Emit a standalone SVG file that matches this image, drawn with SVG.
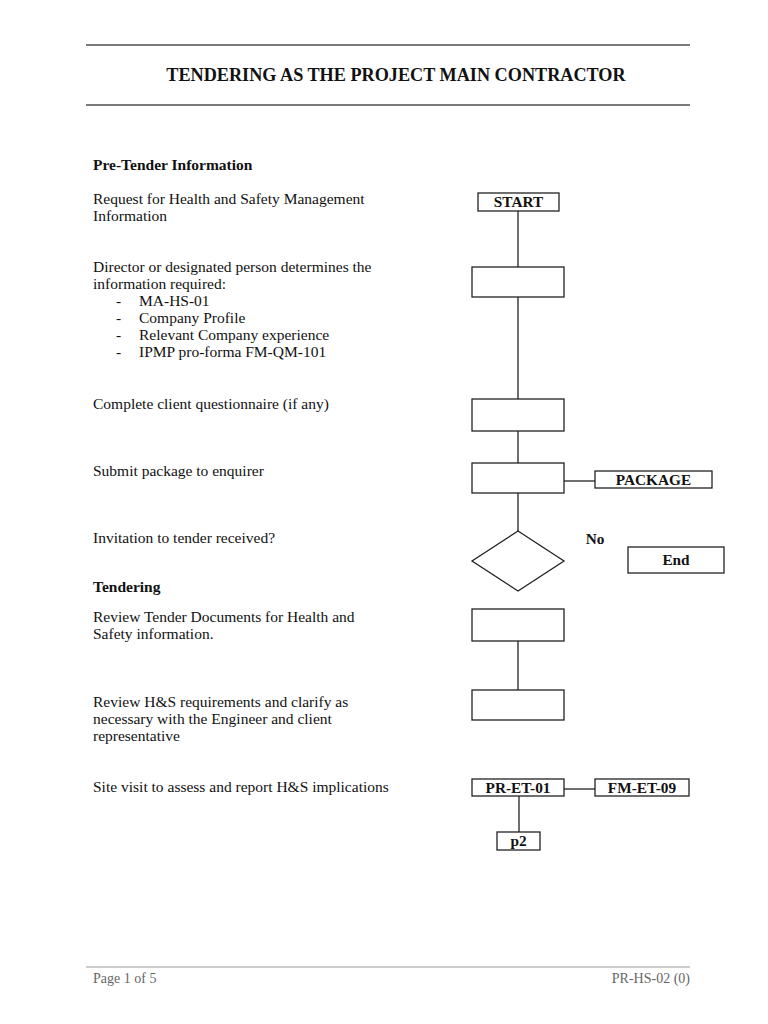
<svg xmlns="http://www.w3.org/2000/svg" width="768" height="1024" viewBox="0 0 768 1024">
<style>
.t{font-family:"Liberation Serif","Times New Roman",serif;font-size:15.5px;fill:#111}
.b{font-weight:bold}
.n{fill:#fff;stroke:#222;stroke-width:1.3}
.nl{font-family:"Liberation Serif","Times New Roman",serif;font-size:15.3px;font-weight:bold;fill:#111;text-anchor:middle}
.c{stroke:#222;stroke-width:1.3;fill:none}
.rule{stroke:#7a7a7a;stroke-width:2}
.f{font-family:"Liberation Serif","Times New Roman",serif;font-size:14px;fill:#666}
</style>
<rect width="768" height="1024" fill="#fff"/>
<line class="rule" x1="86" y1="45" x2="690" y2="45"/>
<line class="rule" x1="86" y1="105" x2="690" y2="105"/>
<text class="t b" x="396" y="81" text-anchor="middle" style="font-size:18.2px">TENDERING AS THE PROJECT MAIN CONTRACTOR</text>

<g id="left-text">
<text class="t b" x="93" y="170">Pre-Tender Information</text>
<text class="t" x="93" y="204">Request for Health and Safety Management</text>
<text class="t" x="93" y="221">Information</text>
<text class="t" x="93" y="272">Director or designated person determines the</text>
<text class="t" x="93" y="289">information required:</text>
<text class="t" x="116" y="306">-</text><text class="t" x="139" y="306">MA-HS-01</text>
<text class="t" x="116" y="323">-</text><text class="t" x="139" y="323">Company Profile</text>
<text class="t" x="116" y="340">-</text><text class="t" x="139" y="340">Relevant Company experience</text>
<text class="t" x="116" y="357">-</text><text class="t" x="139" y="357">IPMP pro-forma FM-QM-101</text>
<text class="t" x="93" y="409">Complete client questionnaire (if any)</text>
<text class="t" x="93" y="476">Submit package to enquirer</text>
<text class="t" x="93" y="543">Invitation to tender received?</text>
<text class="t b" x="93" y="592">Tendering</text>
<text class="t" x="93" y="622">Review Tender Documents for Health and</text>
<text class="t" x="93" y="639">Safety information.</text>
<text class="t" x="93" y="707">Review H&amp;S requirements and clarify as</text>
<text class="t" x="93" y="724">necessary with the Engineer and client</text>
<text class="t" x="93" y="741">representative</text>
<text class="t" x="93" y="792">Site visit to assess and report H&amp;S implications</text>
</g>

<g id="connectors">
<line class="c" x1="518" y1="211" x2="518" y2="267"/>
<line class="c" x1="518" y1="297" x2="518" y2="399"/>
<line class="c" x1="518" y1="431" x2="518" y2="463"/>
<line class="c" x1="564" y1="481" x2="595" y2="481"/>
<line class="c" x1="518" y1="493" x2="518" y2="531"/>
<line class="c" x1="518" y1="641" x2="518" y2="690"/>
<line class="c" x1="564" y1="789" x2="595" y2="789"/>
<line class="c" x1="519" y1="796" x2="519" y2="832"/>
</g>

<g id="start"><rect class="n" x="478" y="193" width="81" height="18"/><text class="nl" x="518.5" y="207">START</text></g>
<g id="step-director"><rect class="n" x="472" y="267" width="92" height="30"/></g>
<g id="step-questionnaire"><rect class="n" x="472" y="399" width="92" height="32"/></g>
<g id="step-submit"><rect class="n" x="472" y="463" width="92" height="30"/></g>
<g id="package"><rect class="n" x="595" y="471" width="117" height="17"/><text class="nl" x="653.5" y="484.5">PACKAGE</text></g>
<g id="decision"><polygon class="n" points="518,531 564,561 518,591 472,561"/></g>
<g id="no-label"><text class="nl" x="595" y="544">No</text></g>
<g id="end"><rect class="n" x="628" y="547" width="96" height="26"/><text class="nl" x="676" y="565">End</text></g>
<g id="step-review-docs"><rect class="n" x="472" y="609" width="92" height="32"/></g>
<g id="step-review-hs"><rect class="n" x="472" y="690" width="92" height="30"/></g>
<g id="pr-et-01"><rect class="n" x="472" y="779" width="92" height="17"/><text class="nl" x="518" y="792.5">PR-ET-01</text></g>
<g id="fm-et-09"><rect class="n" x="595" y="779" width="94" height="17"/><text class="nl" x="642" y="792.5">FM-ET-09</text></g>
<g id="p2"><rect class="n" x="497" y="832" width="43" height="18"/><text class="nl" x="518.5" y="846">p2</text></g>

<line x1="86" y1="967" x2="690" y2="967" stroke="#999" stroke-width="1"/>
<text class="f" x="93" y="983">Page 1 of 5</text>
<text class="f" x="690" y="983" text-anchor="end">PR-HS-02 (0)</text>
</svg>
